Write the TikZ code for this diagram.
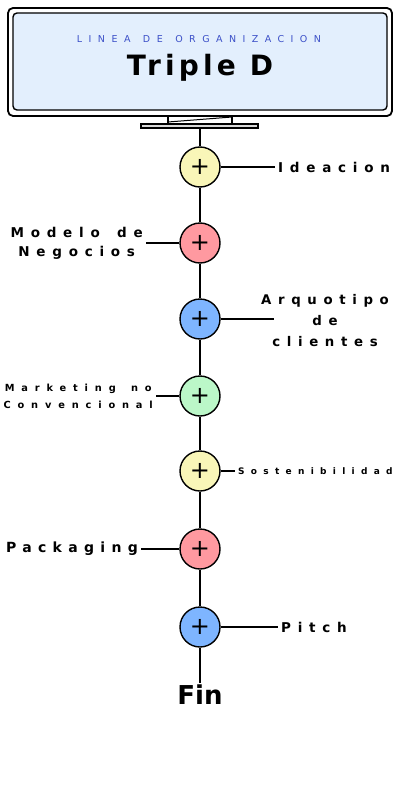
\documentclass[tikz,border=0pt]{standalone}
\usepackage{fontspec}
\setmainfont{DejaVu Sans}

\definecolor{pantalla}{RGB}{227,239,253}
\definecolor{amarillo}{RGB}{249,246,184}
\definecolor{rosa}{RGB}{255,153,160}
\definecolor{azul}{RGB}{126,181,255}
\definecolor{verde}{RGB}{187,247,200}
\definecolor{titulo}{RGB}{60,80,200}
\newcommand{\hueco}[1]{ \rule{#1}{0pt}}

\begin{document}
\begin{tikzpicture}[x=1pt,y=-1pt,
  paso/.style={circle,draw,line width=1.4pt,minimum size=40pt,inner sep=0pt,
    font=\fontsize{24}{24}\selectfont},
  linea/.style={line width=1.4pt},
  etiqueta/.style={inner sep=3pt,align=center}]
\useasboundingbox (0,0) rectangle (400,800);
% monitor
\draw[line width=1.8pt,fill=white,rounded corners=5pt] (8,8) rectangle (392,116);
\node[draw,line width=1.4pt,fill=pantalla,rounded corners=4pt,minimum width=374pt,minimum height=97pt] (screen) at (200,61.5) {};
\node[text=titulo,font=\fontsize{9.5}{11}\selectfont\addfontfeatures{LetterSpace=68}] (subtitulo) at (199,39) {LINEA\hueco{3pt}DE\hueco{3pt}ORGANIZACION};
\node[font=\bfseries\fontsize{28}{32}\selectfont\addfontfeatures{LetterSpace=15}] (nombre) at (200,68) {Triple D};
\draw[line width=1.2pt,fill=white] (168,116) rectangle (232,124);
\draw[line width=1pt] (168,122) -- (232,117);
\draw[line width=1.2pt,fill=black!15] (141,124) rectangle (258,128);
\coordinate (pie) at (200,128);

% pasos
\node[paso,fill=amarillo] (ideacion) at (200,167) {+};
\node[paso,fill=rosa] (modelo) at (200,243) {+};
\node[paso,fill=azul] (arquotipo) at (200,319) {+};
\node[paso,fill=verde] (marketing) at (200,396) {+};
\node[paso,fill=amarillo] (sostenib) at (200,471) {+};
\node[paso,fill=rosa] (packaging) at (200,549) {+};
\node[paso,fill=azul] (pitch) at (200,627) {+};
\node[font=\bfseries\fontsize{26}{30}\selectfont,inner sep=2pt] (fin) at (200,695) {Fin};

\draw[linea] (pie) -- (ideacion) -- (modelo) -- (arquotipo) -- (marketing)
  -- (sostenib) -- (packaging) -- (pitch) -- (fin);

% etiquetas
\node[etiqueta,anchor=west,font=\bfseries\fontsize{13.5}{16}\selectfont\addfontfeatures{LetterSpace=50}] (lideacion) at (275,167) {Ideacion};
\node[etiqueta,anchor=east,font=\bfseries\fontsize{13.5}{19}\selectfont\addfontfeatures{LetterSpace=50}] (lmodelo) at (146,243) {Modelo\hueco{6pt}de\\Negocios};
\node[etiqueta,font=\bfseries\fontsize{13.3}{21}\selectfont\addfontfeatures{LetterSpace=50}] (larquotipo) at (325,321) {Arquotipo\\de\\clientes};
\node[etiqueta,anchor=east,font=\bfseries\fontsize{9.8}{17}\selectfont\addfontfeatures{LetterSpace=70}] (lmarketing) at (156,396) {Marketing\hueco{5pt}no\\Convencional};
\node[etiqueta,anchor=west,font=\bfseries\fontsize{9}{11}\selectfont\addfontfeatures{LetterSpace=70}] (lsostenib) at (235,471) {Sostenibilidad};
\node[etiqueta,anchor=east,font=\bfseries\fontsize{14}{16}\selectfont\addfontfeatures{LetterSpace=45}] (lpackaging) at (141,549) {Packaging};
\node[etiqueta,anchor=west,font=\bfseries\fontsize{13.5}{16}\selectfont\addfontfeatures{LetterSpace=50}] (lpitch) at (278,627) {Pitch};

\draw[linea] (ideacion) -- (lideacion);
\draw[linea] (modelo) -- (lmodelo);
\draw[linea] (arquotipo.east) -- ++(53,0) coordinate (farquotipo);
\draw[linea] (marketing) -- (lmarketing);
\draw[linea] (sostenib) -- (lsostenib);
\draw[linea] (packaging) -- (lpackaging);
\draw[linea] (pitch) -- (lpitch);
\end{tikzpicture}
\end{document}
